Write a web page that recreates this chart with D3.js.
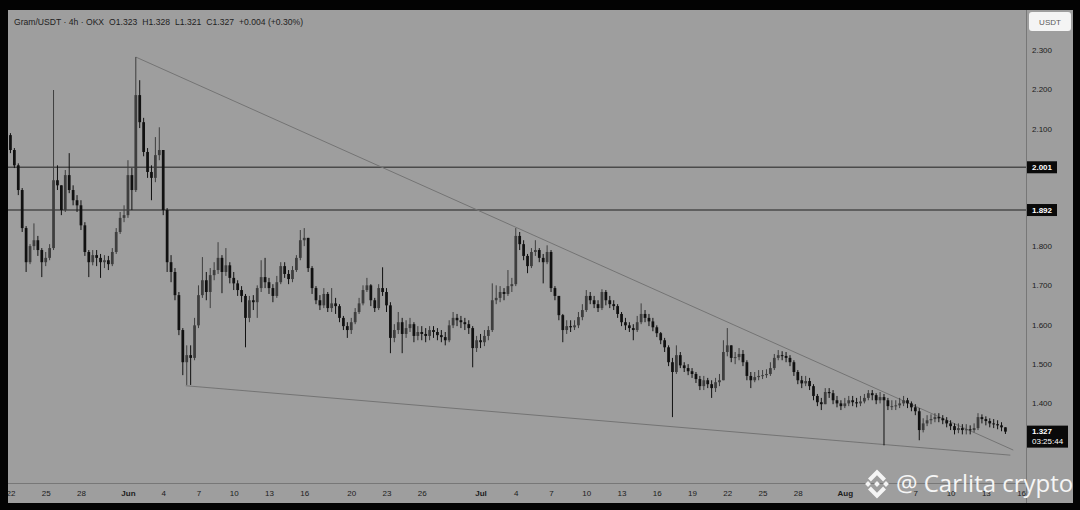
<!DOCTYPE html>
<html>
<head>
<meta charset="utf-8">
<script src="https://cdn.jsdelivr.net/npm/d3@7"></script>
<style>
  html, body { margin: 0; padding: 0; background: #000; }
  svg { display: block; }
  text { font-family: "Liberation Sans", Arial, sans-serif; }
</style>
</head>
<body>
<svg></svg>
<script>
// 8h candles (open = previous close)
const barStart = new Date(2024, 4, 22, 0)
const barHours = 8
const firstOpen = 2.083

const closes = [
  2.045, 2.006, 1.943, 1.846, 1.759, 1.800, 1.815, 1.790, 1.759, 1.770,
  1.795, 1.968, 1.955, 1.892, 1.981, 1.943, 1.917, 1.904, 1.853, 1.785,
  1.759, 1.777, 1.770, 1.759, 1.764, 1.754, 1.785, 1.836, 1.872, 1.879,
  1.981, 1.943, 2.185, 2.116, 2.040, 1.989, 1.974, 2.032, 2.045, 1.892,
  1.759, 1.734, 1.675, 1.586, 1.504, 1.522, 1.515, 1.598, 1.675, 1.713,
  1.683, 1.726, 1.739, 1.770, 1.734, 1.751, 1.719, 1.705, 1.688, 1.673,
  1.617, 1.662, 1.657, 1.693, 1.721, 1.708, 1.693, 1.673, 1.708, 1.749,
  1.729, 1.716, 1.739, 1.770, 1.815, 1.821, 1.744, 1.693, 1.662, 1.649,
  1.678, 1.642, 1.654, 1.647, 1.617, 1.596, 1.586, 1.606, 1.632, 1.654,
  1.688, 1.700, 1.662, 1.642, 1.693, 1.683, 1.649, 1.566, 1.586, 1.606,
  1.576, 1.591, 1.601, 1.571, 1.581, 1.576, 1.571, 1.586, 1.581, 1.573,
  1.568, 1.560, 1.598, 1.617, 1.611, 1.606, 1.601, 1.591, 1.540, 1.560,
  1.555, 1.571, 1.586, 1.662, 1.668, 1.683, 1.678, 1.698, 1.703, 1.826,
  1.805, 1.775, 1.749, 1.785, 1.790, 1.770, 1.759, 1.785, 1.693, 1.673,
  1.624, 1.586, 1.596, 1.593, 1.598, 1.619, 1.637, 1.673, 1.662, 1.652,
  1.642, 1.683, 1.662, 1.652, 1.647, 1.627, 1.606, 1.598, 1.591, 1.586,
  1.606, 1.627, 1.617, 1.608, 1.593, 1.578, 1.560, 1.542, 1.504, 1.479,
  1.522, 1.496, 1.489, 1.481, 1.474, 1.461, 1.443, 1.458, 1.448, 1.438,
  1.453, 1.458, 1.530, 1.547, 1.515, 1.517, 1.525, 1.504, 1.469, 1.458,
  1.466, 1.469, 1.471, 1.474, 1.489, 1.515, 1.522, 1.520, 1.515, 1.504,
  1.479, 1.458, 1.450, 1.456, 1.443, 1.418, 1.402, 1.397, 1.428, 1.425,
  1.407, 1.399, 1.392, 1.399, 1.407, 1.402, 1.399, 1.404, 1.413, 1.425,
  1.420, 1.407, 1.415, 1.407, 1.392, 1.392, 1.394, 1.399, 1.407, 1.399,
  1.389, 1.379, 1.331, 1.348, 1.356, 1.359, 1.364, 1.361, 1.356, 1.348,
  1.341, 1.331, 1.336, 1.331, 1.333, 1.331, 1.336, 1.364, 1.359, 1.354,
  1.348, 1.346, 1.343, 1.338, 1.327
]

const highs = [
  2.088, 2.050, 2.011, 1.948, 1.851, 1.805, 1.858, 1.826, 1.795, 1.785,
  1.805, 2.198, 2.006, 1.955, 1.994, 2.037, 1.955, 1.930, 1.917, 1.861,
  1.790, 1.790, 1.790, 1.780, 1.777, 1.775, 1.795, 1.846, 1.887, 1.904,
  2.019, 1.999, 2.282, 2.223, 2.127, 2.050, 2.006, 2.078, 2.103, 2.045,
  1.897, 1.777, 1.744, 1.683, 1.591, 1.547, 1.547, 1.617, 1.700, 1.772,
  1.734, 1.744, 1.759, 1.810, 1.777, 1.795, 1.759, 1.734, 1.713, 1.698,
  1.678, 1.673, 1.675, 1.700, 1.764, 1.770, 1.719, 1.703, 1.724, 1.759,
  1.759, 1.739, 1.749, 1.777, 1.841, 1.846, 1.815, 1.749, 1.698, 1.675,
  1.693, 1.683, 1.693, 1.668, 1.652, 1.622, 1.606, 1.617, 1.642, 1.668,
  1.700, 1.719, 1.703, 1.668, 1.703, 1.746, 1.693, 1.657, 1.601, 1.632,
  1.617, 1.611, 1.617, 1.606, 1.596, 1.596, 1.591, 1.596, 1.596, 1.591,
  1.586, 1.581, 1.611, 1.632, 1.627, 1.622, 1.617, 1.611, 1.596, 1.571,
  1.576, 1.586, 1.596, 1.705, 1.700, 1.698, 1.693, 1.739, 1.719, 1.846,
  1.836, 1.815, 1.780, 1.795, 1.815, 1.795, 1.780, 1.802, 1.790, 1.698,
  1.673, 1.627, 1.611, 1.611, 1.611, 1.632, 1.652, 1.688, 1.683, 1.673,
  1.662, 1.690, 1.688, 1.673, 1.662, 1.652, 1.632, 1.617, 1.606, 1.601,
  1.622, 1.654, 1.637, 1.627, 1.617, 1.598, 1.581, 1.566, 1.547, 1.515,
  1.547, 1.530, 1.504, 1.499, 1.489, 1.479, 1.469, 1.469, 1.464, 1.458,
  1.464, 1.474, 1.560, 1.591, 1.545, 1.530, 1.540, 1.535, 1.509, 1.479,
  1.479, 1.484, 1.484, 1.486, 1.504, 1.525, 1.535, 1.532, 1.530, 1.522,
  1.509, 1.484, 1.469, 1.469, 1.464, 1.448, 1.423, 1.413, 1.438, 1.438,
  1.433, 1.418, 1.407, 1.413, 1.418, 1.418, 1.413, 1.418, 1.423, 1.433,
  1.433, 1.425, 1.428, 1.423, 1.413, 1.407, 1.407, 1.413, 1.418, 1.413,
  1.404, 1.397, 1.387, 1.361, 1.369, 1.371, 1.374, 1.374, 1.369, 1.364,
  1.356, 1.348, 1.348, 1.346, 1.346, 1.343, 1.348, 1.374, 1.371, 1.366,
  1.361, 1.359, 1.356, 1.351, 1.336
]

const lows = [
  2.037, 1.999, 1.930, 1.836, 1.734, 1.754, 1.790, 1.775, 1.721, 1.749,
  1.764, 1.790, 1.943, 1.879, 1.887, 1.935, 1.904, 1.887, 1.841, 1.775,
  1.721, 1.751, 1.749, 1.719, 1.744, 1.739, 1.749, 1.780, 1.831, 1.861,
  1.872, 1.892, 1.938, 2.101, 2.029, 1.974, 1.917, 1.963, 2.019, 1.879,
  1.734, 1.708, 1.662, 1.573, 1.471, 1.446, 1.446, 1.509, 1.591, 1.668,
  1.662, 1.642, 1.713, 1.729, 1.680, 1.724, 1.705, 1.688, 1.673, 1.657,
  1.542, 1.606, 1.637, 1.617, 1.683, 1.693, 1.678, 1.657, 1.668, 1.703,
  1.719, 1.703, 1.708, 1.734, 1.764, 1.800, 1.734, 1.678, 1.652, 1.637,
  1.642, 1.632, 1.632, 1.627, 1.606, 1.586, 1.566, 1.576, 1.601, 1.627,
  1.649, 1.683, 1.647, 1.632, 1.637, 1.673, 1.632, 1.527, 1.555, 1.576,
  1.527, 1.566, 1.581, 1.555, 1.560, 1.560, 1.555, 1.560, 1.566, 1.560,
  1.555, 1.547, 1.555, 1.591, 1.596, 1.591, 1.586, 1.576, 1.491, 1.530,
  1.540, 1.545, 1.560, 1.581, 1.652, 1.657, 1.662, 1.673, 1.683, 1.698,
  1.790, 1.764, 1.731, 1.744, 1.775, 1.759, 1.705, 1.754, 1.683, 1.662,
  1.611, 1.555, 1.576, 1.581, 1.586, 1.591, 1.611, 1.632, 1.652, 1.642,
  1.632, 1.637, 1.649, 1.642, 1.637, 1.617, 1.596, 1.586, 1.581, 1.560,
  1.581, 1.601, 1.606, 1.596, 1.583, 1.568, 1.550, 1.530, 1.494, 1.364,
  1.474, 1.489, 1.479, 1.471, 1.464, 1.451, 1.433, 1.433, 1.438, 1.413,
  1.428, 1.443, 1.458, 1.519, 1.504, 1.499, 1.509, 1.494, 1.458, 1.438,
  1.453, 1.458, 1.461, 1.464, 1.469, 1.484, 1.509, 1.509, 1.504, 1.494,
  1.469, 1.448, 1.438, 1.443, 1.433, 1.407, 1.392, 1.382, 1.397, 1.413,
  1.397, 1.389, 1.382, 1.387, 1.392, 1.392, 1.389, 1.392, 1.399, 1.407,
  1.407, 1.397, 1.399, 1.292, 1.382, 1.382, 1.382, 1.387, 1.392, 1.387,
  1.379, 1.369, 1.305, 1.325, 1.341, 1.346, 1.351, 1.351, 1.346, 1.338,
  1.331, 1.320, 1.323, 1.320, 1.320, 1.320, 1.325, 1.331, 1.348, 1.343,
  1.338, 1.336, 1.333, 1.328, 1.321
]

const priceTicks = [2.3, 2.2, 2.1, 1.8, 1.7, 1.6, 1.5, 1.4]
const levels = [2.001, 1.892]
const timeTicks = ['2024-05-22', '2024-05-25', '2024-05-28', '2024-06-01', '2024-06-04', '2024-06-07',
  '2024-06-10', '2024-06-13', '2024-06-16', '2024-06-20', '2024-06-23', '2024-06-26', '2024-07-01',
  '2024-07-04', '2024-07-07', '2024-07-10', '2024-07-13', '2024-07-16', '2024-07-19', '2024-07-22',
  '2024-07-25', '2024-07-28', '2024-08-01', '2024-08-07', '2024-08-10', '2024-08-13', '2024-08-16']
const timeLabels = ['22', '25', '28', 'Jun', '4', '7', '10', '13', '16', '20', '23', '26', 'Jul',
  '4', '7', '10', '13', '16', '19', '22', '25', '28', 'Aug', '7', '10', '13', '16']
const upperTrend = [['2024-06-01 16:00', 2.282], ['2024-08-15 08:00', 1.280]]
const lowerTrend = [['2024-06-05 22:00', 1.444], ['2024-08-15 02:00', 1.267]]
const lastPrice = 1.327
const countdown = '03:25:44'
const legend = ['Gram/USDT · 4h · OKX', 'O1.323', 'H1.328', 'L1.321', 'C1.327', '+0.004 (+0.30%)']
const watermark = '@ Carlita crypto'

const W = 1080, H = 510
const plot = { left: 8, right: 1026, top: 10, bottom: 483 }
const bg = '#9e9e9e', bullColor = '#3e3e3e', bearColor = '#111111'

const parseDay = d3.timeParse('%Y-%m-%d')
const parseTime = d3.timeParse('%Y-%m-%d %H:%M')

const bars = closes.map((c, i) => ({
  t: d3.timeHour.offset(barStart, i * barHours),
  o: i ? closes[i - 1] : firstOpen,
  h: highs[i], l: lows[i], c: c
}))

const svg = d3.select('svg').attr('width', W).attr('height', H)

const x = d3.scaleTime()
  .domain([new Date(2024, 4, 21, 19), new Date(2024, 7, 16, 10)])
  .range([plot.left, plot.right])
const y = d3.scaleLinear().domain([1.4, 2.3]).range([403, 50])

// frame and panel
svg.append('rect').attr('width', W).attr('height', H).attr('fill', '#030303')
svg.append('rect').attr('x', 8).attr('y', 10).attr('width', 1065).attr('height', 493).attr('fill', bg)

svg.append('clipPath').attr('id', 'plotClip').append('rect')
  .attr('x', plot.left).attr('y', plot.top)
  .attr('width', plot.right - plot.left).attr('height', plot.bottom - plot.top)
svg.append('clipPath').attr('id', 'axisClip').append('rect')
  .attr('x', plot.left).attr('y', plot.bottom)
  .attr('width', plot.right - plot.left).attr('height', 20)

const chart = svg.append('g').attr('clip-path', 'url(#plotClip)')

// horizontal levels
chart.selectAll('line.level').data(levels).join('line')
  .attr('class', 'level')
  .attr('x1', plot.left).attr('x2', plot.right)
  .attr('y1', d => y(d)).attr('y2', d => y(d))
  .attr('stroke', '#4a4a4a').attr('stroke-width', 1.4)

// wedge trend lines
const trendLine = d3.line().x(d => x(parseTime(d[0]))).y(d => y(d[1]))
chart.selectAll('path.trend').data([upperTrend, lowerTrend]).join('path')
  .attr('class', 'trend')
  .attr('d', trendLine)
  .attr('fill', 'none').attr('stroke', '#747474').attr('stroke-width', 1)

// candles
const bw = (x(d3.timeHour.offset(barStart, barHours)) - x(barStart)) * 0.7
const colorOf = d => d.c >= d.o ? bullColor : bearColor

chart.selectAll('line.wick').data(bars).join('line')
  .attr('class', 'wick')
  .attr('x1', d => x(d.t)).attr('x2', d => x(d.t))
  .attr('y1', d => y(Math.max(d.h, d.o, d.c)))
  .attr('y2', d => y(Math.min(d.l, d.o, d.c)))
  .attr('stroke', colorOf).attr('stroke-width', 1)

chart.selectAll('rect.body').data(bars).join('rect')
  .attr('class', 'body')
  .attr('x', d => x(d.t) - bw / 2).attr('width', bw)
  .attr('y', d => y(Math.max(d.o, d.c)))
  .attr('height', d => Math.max(1, Math.abs(y(d.o) - y(d.c))))
  .attr('fill', colorOf)

// axis separators
svg.append('line').attr('x1', plot.left).attr('x2', plot.right)
  .attr('y1', plot.bottom + 0.5).attr('y2', plot.bottom + 0.5)
  .attr('stroke', '#777').attr('stroke-width', 1)
svg.append('line').attr('x1', plot.right + 0.5).attr('x2', plot.right + 0.5)
  .attr('y1', plot.top).attr('y2', 503)
  .attr('stroke', '#777').attr('stroke-width', 1)

// time axis
const xAxis = d3.axisBottom(x)
  .tickValues(timeTicks.map(parseDay))
  .tickFormat((d, i) => timeLabels[i])
  .tickSize(0).tickPadding(7)

const xg = svg.append('g')
  .attr('clip-path', 'url(#axisClip)')
  .append('g')
  .attr('transform', 'translate(0,' + plot.bottom + ')')
  .call(xAxis)
xg.select('.domain').remove()
xg.selectAll('text')
  .attr('fill', '#1c1c1c')
  .style('font-size', '8px')
  .style('font-weight', (d, i) => /[A-Za-z]/.test(timeLabels[i]) ? 'bold' : 'normal')

// price axis
const yAxis = d3.axisRight(y)
  .tickValues(priceTicks)
  .tickFormat(d3.format('.3f'))
  .tickSize(0).tickPadding(6)

const yg = svg.append('g')
  .attr('transform', 'translate(' + plot.right + ',0)')
  .call(yAxis)
yg.select('.domain').remove()
yg.selectAll('text').attr('fill', '#1c1c1c').style('font-size', '8px')

// level labels
const levelTags = svg.selectAll('g.tag').data(levels).join('g')
  .attr('class', 'tag')
  .attr('transform', d => 'translate(' + (plot.right + 1) + ',' + y(d) + ')')
levelTags.append('rect').attr('x', 0).attr('y', -6).attr('width', 30).attr('height', 12).attr('fill', '#0a0a0a')
levelTags.append('text').attr('x', 5).attr('dy', '0.35em')
  .attr('fill', '#fff').style('font-size', '8px').style('font-weight', 'bold')
  .text(d => d3.format('.3f')(d))

// last price tag
const lastTag = svg.append('g')
  .attr('transform', 'translate(' + (plot.right + 1) + ',' + y(lastPrice) + ')')
lastTag.append('rect').attr('x', 0).attr('y', -6).attr('width', 41).attr('height', 22).attr('fill', '#0a0a0a')
lastTag.append('text').attr('x', 5).attr('dy', '0.35em')
  .attr('fill', '#fff').style('font-size', '8px').style('font-weight', 'bold')
  .text(d3.format('.3f')(lastPrice))
lastTag.append('text').attr('x', 5).attr('y', 10).attr('dy', '0.35em')
  .attr('fill', '#fff').style('font-size', '8px')
  .text(countdown)

// currency box
svg.append('rect').attr('x', 1029).attr('y', 12).attr('width', 42).attr('height', 19).attr('rx', 3)
  .attr('fill', '#f4f4f4')
svg.append('text').attr('x', 1050).attr('y', 22).attr('dy', '0.35em').attr('text-anchor', 'middle')
  .attr('fill', '#5a5a5a').style('font-size', '8px').text('USDT')

// legend line
const leg = svg.append('text').attr('x', 14).attr('y', 22).attr('dy', '0.35em')
  .attr('fill', '#1e1e1e').style('font-size', '8.6px')
leg.selectAll('tspan').data(legend).join('tspan')
  .attr('dx', (d, i) => i ? 5 : 0)
  .text(d => d)

// watermark
const wm = svg.append('g').attr('transform', 'translate(877,484)')
const s = 14.5
const logoShapes = [
  [[0, -0.2], [0.2, 0], [0, 0.2], [-0.2, 0]],
  [[0.62, -0.2], [0.82, 0], [0.62, 0.2], [0.42, 0]],
  [[-0.62, -0.2], [-0.42, 0], [-0.62, 0.2], [-0.82, 0]],
  [[0, -1], [0.62, -0.38], [0.42, -0.18], [0, -0.6], [-0.42, -0.18], [-0.62, -0.38]],
  [[0, 1], [0.62, 0.38], [0.42, 0.18], [0, 0.6], [-0.42, 0.18], [-0.62, 0.38]]
]
wm.selectAll('polygon').data(logoShapes).join('polygon')
  .attr('points', d => d.map(p => (p[0] * s) + ',' + (p[1] * s)).join(' '))
  .attr('fill', '#f5f5f5')
svg.append('text').attr('x', 896).attr('y', 492)
  .style('font-family', '"Open Sans", "Noto Sans", sans-serif')
  .style('font-size', '24px')
  .attr('fill', '#f5f5f5')
  .text(watermark)
</script>
</body>
</html>
